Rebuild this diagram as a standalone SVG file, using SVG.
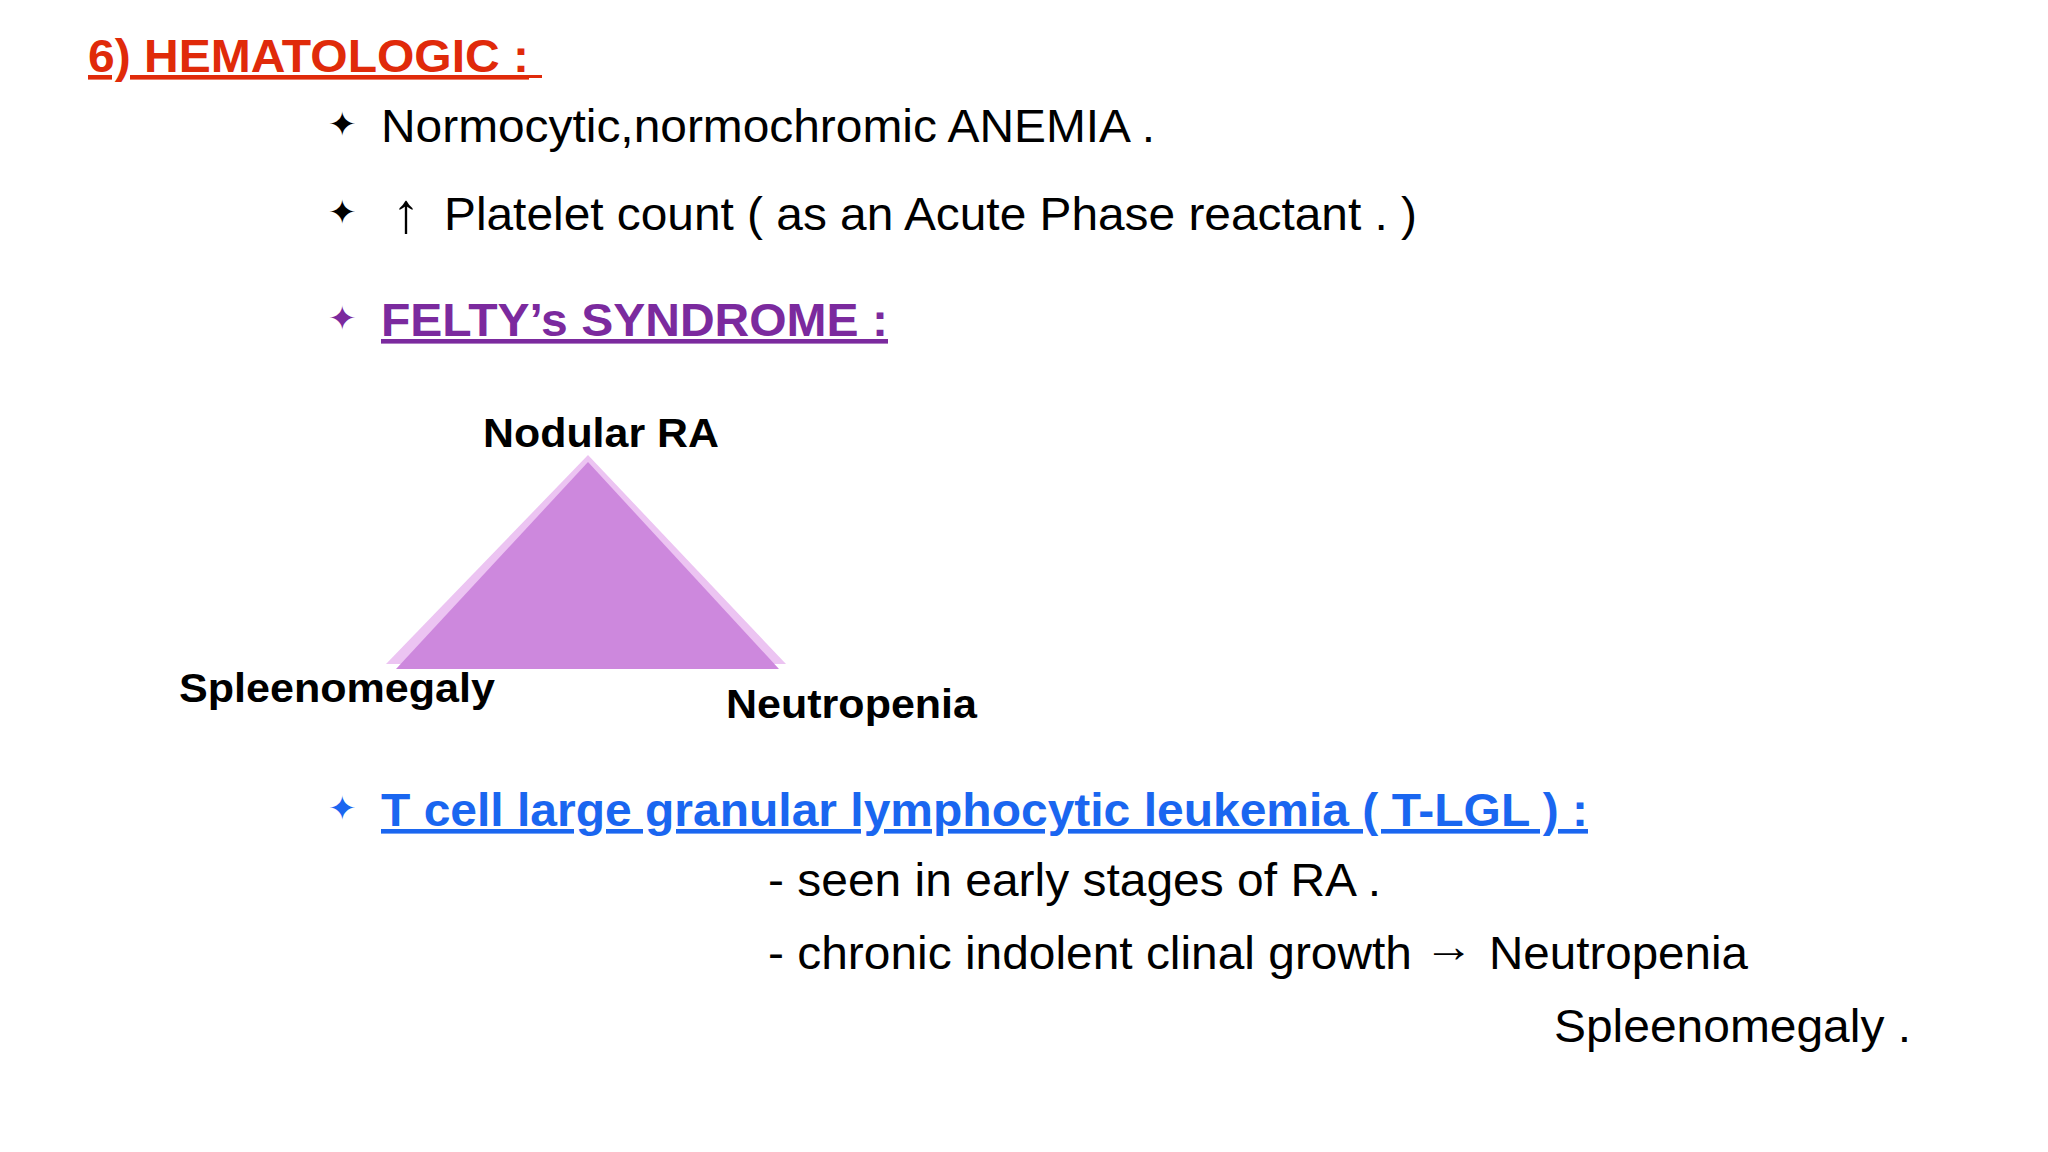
<svg xmlns="http://www.w3.org/2000/svg" width="2048" height="1152" viewBox="0 0 2048 1152">
<style>
text{font-family:"Liberation Sans",Arial,sans-serif;}
.b{font-size:46px;fill:#000;}
.s{font-size:34px;}
.lbl{font-size:40px;font-weight:bold;fill:#000;}
.h{font-size:46px;font-weight:bold;text-decoration:underline;}
</style>
<rect width="2048" height="1152" fill="#fff"/>
<g id="title"><text x="88" y="72" class="h" fill="#E02A0A" textLength="441" lengthAdjust="spacingAndGlyphs">6) HEMATOLOGIC :</text><rect x="526" y="75" width="16" height="3" fill="#E02A0A"/></g>
<g id="bullet1"><text x="328" y="136" class="s">✦</text><text x="381" y="142" class="b" textLength="774" lengthAdjust="spacingAndGlyphs">Normocytic,normochromic ANEMIA .</text></g>
<g id="bullet2"><text x="328" y="224" class="s">✦</text><text x="392" y="232" font-size="56" font-weight="200" font-family="DejaVu Sans, sans-serif">↑</text><text x="444" y="230" class="b" textLength="973" lengthAdjust="spacingAndGlyphs">Platelet count ( as an Acute Phase reactant . )</text></g>
<g id="felty"><text x="328" y="330" class="s" fill="#7B2A9E">✦</text><text x="381" y="336" class="h" fill="#7B2A9E" textLength="507" lengthAdjust="spacingAndGlyphs">FELTY’s SYNDROME :</text></g>
<g id="triangle">
<polygon points="588,455 386,664 786,664" fill="#ECC4F2"/>
<polygon points="588,462 396,669 779,669" fill="#CD88DD"/>
</g>
<g id="nodular"><text x="483" y="447" class="lbl" textLength="236" lengthAdjust="spacingAndGlyphs">Nodular RA</text></g>
<g id="spleen"><text x="179" y="702" class="lbl" textLength="316" lengthAdjust="spacingAndGlyphs">Spleenomegaly</text></g>
<g id="neutro"><text x="726" y="718" class="lbl" textLength="251" lengthAdjust="spacingAndGlyphs">Neutropenia</text></g>
<g id="tlgl"><text x="328" y="820" class="s" fill="#1A66F0">✦</text><text x="381" y="826" class="h" fill="#1A66F0" textLength="1207" lengthAdjust="spacingAndGlyphs">T cell large granular lymphocytic leukemia ( T-LGL ) :</text></g>
<g id="lines">
<text x="768" y="896" class="b" textLength="613" lengthAdjust="spacingAndGlyphs">- seen in early stages of RA .</text>
<text x="768" y="969" class="b" textLength="644" lengthAdjust="spacingAndGlyphs">- chronic indolent clinal growth</text>
<text x="1424" y="962" font-size="46" font-family="DejaVu Sans, sans-serif" textLength="50" lengthAdjust="spacingAndGlyphs">→</text>
<text x="1489" y="969" class="b" textLength="259" lengthAdjust="spacingAndGlyphs">Neutropenia</text>
<text x="1554" y="1042" class="b" textLength="357" lengthAdjust="spacingAndGlyphs">Spleenomegaly .</text>
</g>
<g id="connectors"/>
</svg>
